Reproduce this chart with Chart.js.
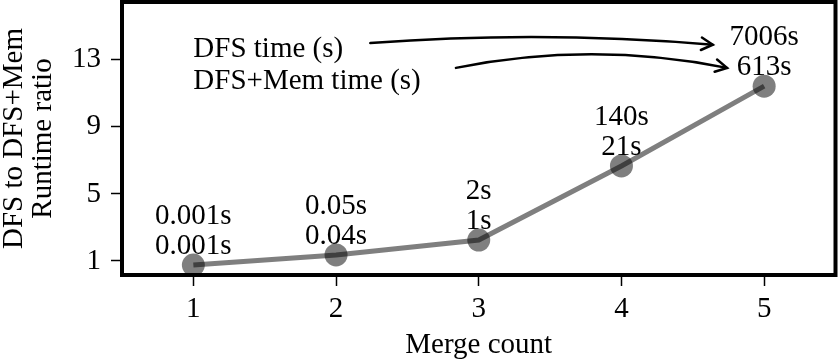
<!DOCTYPE html>
<html>
<head>
<meta charset="utf-8">
<script src="https://cdn.jsdelivr.net/npm/chart.js@4"></script>
<style>
  html, body { margin: 0; padding: 0; background: #fff; }
  #wrap { width: 839px; height: 363px; }
</style>
</head>
<body>
<div id="wrap"><canvas id="ratioChart"></canvas></div>
<script>
var mergeCounts = [1, 2, 3, 4, 5];
var runtimeRatio = [0.76, 1.36, 2.25, 6.67, 11.43];
var dfsTimes = ['0.001s', '0.05s', '2s', '140s', '7006s'];
var memTimes = ['0.001s', '0.04s', '1s', '21s', '613s'];
var xTicks = [1, 2, 3, 4, 5];
var yTicks = [1, 5, 9, 13];

// key text and arrows, in data units
var keyLabels = ['DFS time (s)', 'DFS+Mem time (s)'];
var keyPos = [[1.0, 13.18], [1.0, 11.27]];
var arrowFrom = [[2.24, 14.0], [2.84, 12.52]];
var arrowTo = [[4.64, 13.9], [4.74, 12.52]];
var arrowBend = [0.04, 0.1];

var FONT = '"Liberation Serif", "DejaVu Serif", serif';
var FS = 29;

var extras = {
  id: 'extras',
  afterDatasetsDraw: function (chart) {
    var ctx = chart.ctx;
    var xs = chart.scales.x, ys = chart.scales.y;
    var area = chart.chartArea;
    var pts = chart.getDatasetMeta(0).data;

    ctx.save();
    ctx.fillStyle = '#000';
    ctx.font = FS + 'px ' + FONT;
    ctx.textAlign = 'center';
    ctx.textBaseline = 'alphabetic';
    pts.forEach(function (p, i) {
      ctx.fillText(memTimes[i], p.x, p.y - 11);
      ctx.fillText(dfsTimes[i], p.x, p.y - 41);
    });

    ctx.textAlign = 'left';
    keyLabels.forEach(function (t, i) {
      ctx.fillText(t, xs.getPixelForValue(keyPos[i][0]), ys.getPixelForValue(keyPos[i][1]));
    });

    ctx.strokeStyle = '#000';
    ctx.lineWidth = 2.5;
    ctx.lineCap = 'round';
    arrowFrom.forEach(function (a, i) {
      var x1 = xs.getPixelForValue(a[0]), y1 = ys.getPixelForValue(a[1]);
      var x2 = xs.getPixelForValue(arrowTo[i][0]), y2 = ys.getPixelForValue(arrowTo[i][1]);
      var dx = x2 - x1, dy = y2 - y1;
      var cx = (x1 + x2) / 2 + arrowBend[i] * dy;
      var cy = (y1 + y2) / 2 - arrowBend[i] * dx;
      ctx.beginPath();
      ctx.moveTo(x1, y1);
      ctx.quadraticCurveTo(cx, cy, x2, y2);
      ctx.stroke();
      var ang = Math.atan2(y2 - cy, x2 - cx);
      var len = 13, half = 0.5;
      ctx.beginPath();
      ctx.moveTo(x2 - len * Math.cos(ang - half), y2 - len * Math.sin(ang - half));
      ctx.lineTo(x2, y2);
      ctx.lineTo(x2 - len * Math.cos(ang + half), y2 - len * Math.sin(ang + half));
      ctx.stroke();
    });

    // frame
    ctx.lineWidth = 4;
    ctx.lineCap = 'butt';
    ctx.strokeRect(area.left, area.top, area.right - area.left, area.bottom - area.top);
    ctx.restore();
  }
};

new Chart(document.getElementById('ratioChart').getContext('2d'), {
  type: 'line',
  data: {
    datasets: [{
      data: mergeCounts.map(function (m, i) { return { x: m, y: runtimeRatio[i] }; }),
      borderColor: 'rgba(0,0,0,0.5)',
      backgroundColor: 'rgba(0,0,0,0.5)',
      borderWidth: 5,
      pointRadius: 11.5,
      pointBorderWidth: 0,
      pointHoverRadius: 11.5,
      tension: 0
    }]
  },
  options: {
    responsive: true,
    maintainAspectRatio: false,
    animation: false,
    events: [],
    layout: { autoPadding: false, padding: { left: 0, top: 2, right: 3.5, bottom: 0 } },
    plugins: {
      legend: { display: false },
      tooltip: { enabled: false }
    },
    scales: {
      x: {
        type: 'linear',
        min: 0.5,
        max: 5.5,
        afterBuildTicks: function (axis) {
          axis.ticks = xTicks.map(function (v) { return { value: v }; });
        },
        afterFit: function (axis) {
          axis.height = 88;
          axis.paddingLeft = 0; axis.paddingRight = 0;
        },
        grid: { display: true, drawOnChartArea: false, drawTicks: true, tickLength: 11, tickWidth: 1.5, tickColor: '#000' },
        border: { display: false },
        ticks: { color: '#000', padding: 6, maxRotation: 0, font: { family: FONT, size: FS } },
        title: { display: true, text: 'Merge count', color: '#000', padding: { top: 0, bottom: 0 }, font: { family: FONT, size: FS, lineHeight: 1.2 } }
      },
      y: {
        type: 'linear',
        min: 0.164,
        max: 16.45,
        afterBuildTicks: function (axis) {
          axis.ticks = yTicks.map(function (v) { return { value: v }; });
        },
        afterFit: function (axis) {
          axis.width = 122;
          axis.paddingTop = 0; axis.paddingBottom = 0;
        },
        grid: { display: true, drawOnChartArea: false, drawTicks: true, tickLength: 11, tickWidth: 1.5, tickColor: '#000' },
        border: { display: false },
        ticks: { color: '#000', padding: 10, font: { family: FONT, size: FS } },
        title: { display: true, text: ['DFS to DFS+Mem', 'Runtime ratio'], color: '#000', padding: { top: 0, bottom: 0 }, font: { family: FONT, size: FS, lineHeight: 1.0 } }
      }
    }
  },
  plugins: [extras]
});
</script>
</body>
</html>
